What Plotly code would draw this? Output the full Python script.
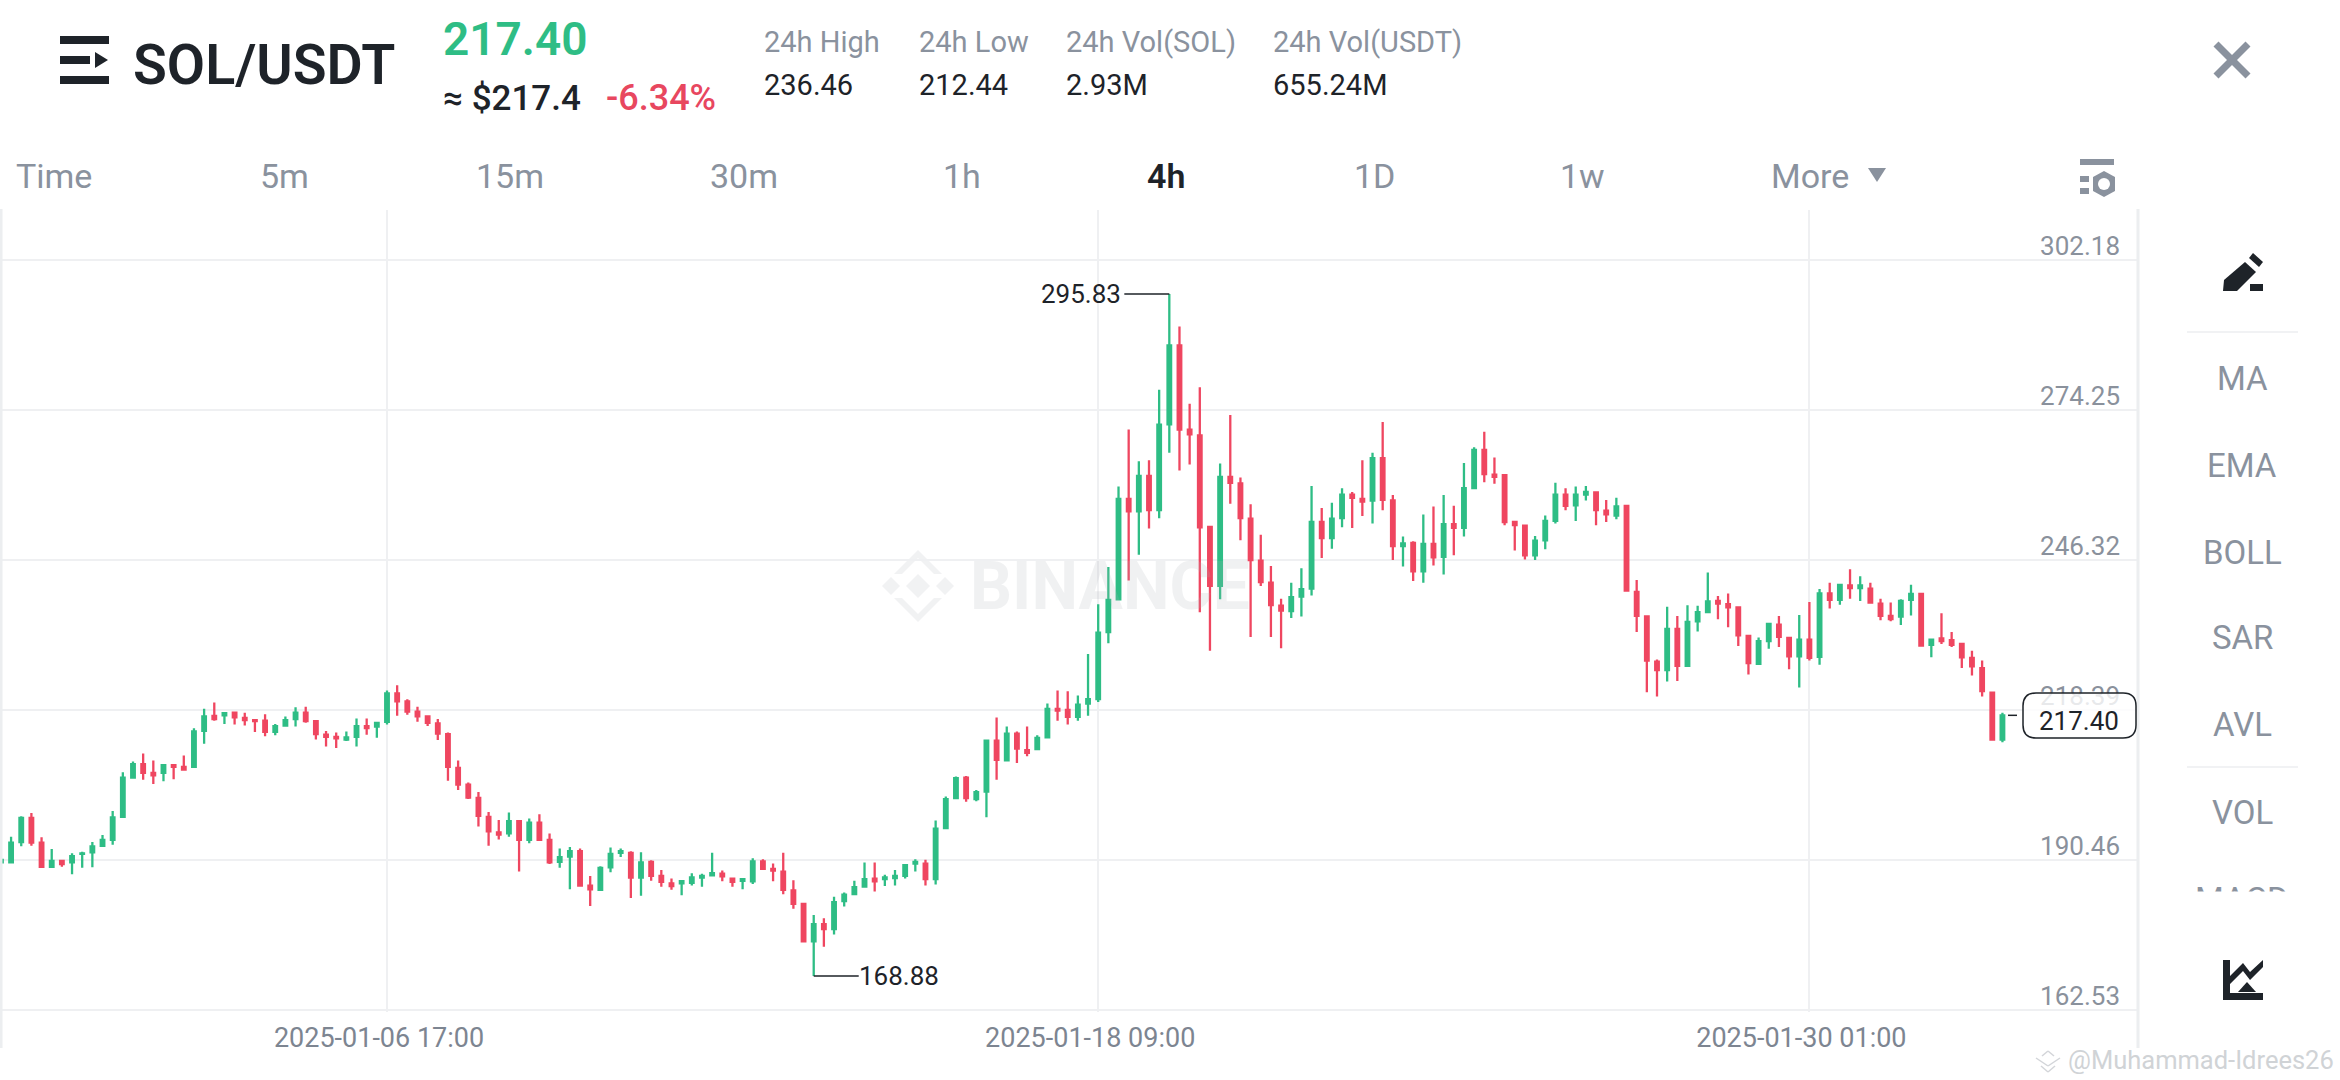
import pandas as pd
import plotly.graph_objects as go

W, H = 2340, 1080

# 4h candles
start_time = "2024-12-31 09:00"
opens = [
    190.0, 190.0, 193.8, 198.3, 193.7, 189.2, 190.3, 190.0, 191.6, 191.9,
    193.1, 194.2, 198.5, 205.8, 208.3, 206.7, 206.7, 208.1, 207.8, 207.8,
    214.5, 217.3, 217.4, 217.9, 216.9, 216.5, 216.4, 214.3, 215.5, 216.7,
    217.9, 216.3, 213.8, 213.4, 212.9, 213.4, 215.4, 215.3, 216.2, 221.5,
    220.0, 218.1, 217.2, 215.9, 213.9, 207.6, 204.5, 202.0, 198.5, 195.6,
    195.4, 197.7, 194.2, 197.4, 194.2, 190.1, 191.1, 192.1, 185.7, 184.9,
    189.1, 191.8, 191.8, 187.2, 190.1, 187.5, 186.1, 186.1, 186.2, 187.2,
    187.6, 187.9, 187.0, 186.6, 186.5, 190.2, 188.8, 188.3, 184.8, 182.3,
    175.3, 178.5, 177.6, 182.8, 184.1, 185.5, 187.0, 186.9, 187.1, 187.5,
    189.8, 189.8, 186.9, 196.4, 202.0, 205.8, 201.8, 203.2, 212.7, 209.0,
    214.0, 210.9, 211.1, 213.3, 218.6, 218.4, 217.1, 219.6, 220.4, 232.9,
    239.0, 257.7, 255.4, 262.0, 255.6, 271.6, 286.3, 270.6, 269.5, 252.5,
    241.5, 261.8, 260.6, 254.0, 246.2, 242.1, 237.8, 236.8, 239.5, 241.0,
    253.4, 250.4, 254.1, 258.5, 257.7, 257.4, 265.3, 257.4, 248.9, 249.5,
    244.2, 249.3, 246.9, 253.0, 252.3, 259.7, 266.8, 262.2, 262.1, 253.4,
    252.7, 247.2, 250.0, 253.6, 258.5, 256.5, 258.5, 258.9, 255.5, 254.6,
    256.4, 240.4, 235.8, 227.4, 225.8, 233.5, 226.6, 234.9, 236.6, 238.7,
    238.1, 237.5, 232.2, 227.0, 231.2, 234.3, 231.8, 228.4, 231.5, 228.3,
    240.1, 238.9, 241.6, 241.1, 241.0, 238.2, 235.9, 235.8, 238.9, 240.0,
    230.5, 231.7, 231.4, 230.7, 228.1, 226.2, 221.6, 212.9,
]
highs = [
    190.8, 194.8, 198.6, 199.2, 194.7, 192.5, 190.5, 191.7, 192.0, 193.8,
    195.1, 199.6, 206.8, 208.8, 210.3, 209.0, 208.2, 208.3, 209.9, 215.0,
    218.6, 219.8, 218.0, 218.1, 217.9, 216.5, 217.6, 215.8, 217.2, 218.9,
    219.0, 216.5, 214.5, 214.2, 214.4, 216.8, 216.8, 216.1, 222.0, 223.0,
    220.4, 219.0, 217.3, 216.7, 214.2, 209.0, 204.9, 203.1, 199.4, 197.9,
    199.3, 197.8, 198.2, 199.0, 195.4, 192.6, 192.9, 192.6, 187.5, 189.3,
    192.8, 192.6, 192.1, 191.9, 190.4, 188.6, 187.0, 186.6, 188.0, 187.9,
    191.8, 188.5, 187.2, 187.0, 190.8, 190.6, 189.8, 191.8, 186.7, 182.3,
    180.2, 179.6, 183.6, 184.4, 186.6, 190.0, 190.0, 187.7, 188.6, 189.6,
    190.6, 190.5, 197.8, 202.3, 206.0, 206.1, 203.5, 212.8, 217.0, 215.3,
    214.4, 215.3, 213.7, 219.6, 222.0, 221.9, 221.1, 228.8, 238.1, 245.0,
    260.0, 270.6, 264.7, 264.9, 278.0, 295.83, 289.8, 275.4, 278.5, 252.7,
    264.3, 273.3, 261.7, 256.7, 251.0, 245.2, 239.1, 242.1, 244.8, 260.1,
    256.0, 257.0, 259.7, 259.0, 264.9, 266.3, 272.0, 258.4, 250.7, 249.8,
    254.8, 256.3, 258.4, 256.4, 264.4, 267.3, 270.2, 265.4, 262.3, 253.6,
    252.8, 250.8, 254.6, 260.7, 259.7, 260.0, 260.1, 259.0, 257.5, 257.9,
    256.6, 242.6, 235.8, 227.8, 237.6, 235.9, 237.9, 237.8, 244.0, 239.6,
    240.1, 237.6, 232.4, 231.9, 234.6, 235.9, 231.9, 236.1, 238.5, 240.9,
    242.1, 241.8, 244.6, 243.3, 242.1, 239.1, 238.4, 239.0, 241.7, 240.0,
    231.7, 236.4, 232.9, 230.8, 229.4, 227.6, 221.6, 217.9,
]
lows = [
    189.8, 190.0, 193.0, 193.1, 189.1, 189.0, 189.2, 187.8, 189.0, 189.1,
    193.0, 193.3, 198.4, 205.6, 205.4, 204.6, 205.1, 205.5, 207.1, 207.6,
    212.1, 216.4, 215.8, 215.7, 215.5, 214.3, 213.5, 213.7, 215.4, 215.3,
    216.0, 212.9, 211.6, 211.3, 212.6, 211.6, 213.8, 213.2, 215.7, 217.3,
    217.5, 216.2, 215.4, 212.8, 205.2, 203.5, 201.8, 196.7, 193.1, 194.3,
    194.8, 188.3, 193.6, 194.1, 189.7, 189.0, 185.0, 185.6, 181.9, 184.9,
    188.2, 191.0, 183.4, 183.8, 186.6, 185.5, 184.9, 183.9, 185.7, 185.5,
    187.5, 186.5, 185.5, 185.0, 186.0, 188.6, 186.5, 184.1, 181.4, 175.2,
    168.88, 174.3, 176.6, 181.8, 184.1, 185.5, 184.6, 185.6, 185.7, 187.0,
    188.3, 185.7, 185.9, 196.4, 202.0, 201.3, 201.4, 198.4, 205.4, 208.8,
    208.5, 209.8, 210.9, 213.2, 216.4, 215.7, 216.4, 217.3, 219.9, 230.8,
    239.0, 242.5, 247.3, 252.2, 254.1, 266.3, 263.0, 264.1, 236.6, 229.4,
    239.0, 256.8, 250.0, 232.0, 241.5, 232.0, 229.9, 235.5, 235.8, 239.7,
    246.7, 248.4, 252.4, 252.3, 254.5, 253.1, 255.6, 246.3, 245.1, 242.4,
    242.1, 245.3, 243.6, 247.2, 250.7, 259.7, 260.8, 260.5, 252.8, 248.1,
    246.4, 246.3, 248.3, 253.1, 255.6, 253.6, 257.4, 252.8, 253.4, 253.9,
    240.4, 232.9, 221.7, 220.9, 223.7, 223.8, 226.6, 233.0, 236.6, 235.3,
    233.8, 230.3, 225.0, 226.8, 229.8, 230.1, 226.0, 222.6, 227.6, 226.8,
    237.3, 238.0, 239.1, 238.7, 238.2, 235.1, 234.9, 234.2, 236.0, 230.2,
    228.2, 230.7, 230.1, 226.2, 224.8, 220.9, 212.7, 212.4,
]
closes = [
    190.5, 193.7, 198.3, 193.7, 189.2, 190.3, 189.7, 191.2, 191.7, 193.0,
    194.2, 198.4, 205.8, 208.3, 206.7, 206.2, 208.1, 207.8, 207.3, 214.4,
    217.2, 216.7, 217.8, 217.0, 216.5, 216.3, 214.3, 215.4, 216.5, 217.9,
    216.3, 213.9, 213.4, 213.1, 213.3, 215.4, 215.0, 216.0, 221.5, 220.0,
    218.1, 217.2, 216.0, 214.0, 207.8, 204.5, 202.1, 198.7, 195.8, 195.2,
    197.7, 194.2, 197.4, 194.2, 190.0, 191.0, 192.1, 185.7, 185.0, 189.0,
    191.6, 192.1, 187.2, 190.0, 187.5, 186.4, 185.6, 186.5, 187.2, 187.5,
    188.0, 187.4, 186.4, 186.9, 190.2, 188.8, 188.5, 184.9, 182.3, 175.3,
    178.5, 177.6, 182.6, 184.0, 185.4, 186.9, 186.5, 187.2, 187.5, 189.5,
    190.1, 186.9, 196.3, 201.8, 205.7, 202.0, 203.1, 212.7, 209.1, 214.0,
    211.2, 210.4, 213.2, 218.6, 218.3, 217.1, 219.4, 220.4, 232.8, 238.9,
    257.7, 255.4, 262.0, 255.6, 271.5, 286.3, 270.6, 269.7, 252.4, 241.5,
    261.8, 260.7, 254.1, 246.3, 242.2, 237.9, 236.9, 239.4, 240.9, 253.4,
    250.4, 254.0, 258.5, 257.9, 257.2, 265.3, 257.5, 248.9, 249.4, 244.2,
    249.3, 246.8, 253.0, 252.3, 259.7, 266.8, 262.3, 261.8, 253.4, 252.8,
    247.2, 249.9, 253.6, 258.5, 256.4, 258.5, 259.0, 255.6, 254.8, 256.3,
    240.6, 235.9, 227.6, 225.8, 233.5, 226.6, 234.8, 236.6, 238.6, 238.2,
    237.5, 232.3, 227.1, 231.2, 234.4, 232.0, 228.4, 231.5, 228.1, 240.1,
    238.9, 241.7, 241.1, 241.6, 238.4, 235.9, 235.3, 238.7, 240.0, 230.4,
    231.5, 231.2, 230.5, 228.2, 226.5, 221.9, 212.9, 217.40,
]
date_ticks = ["2025-01-06 17:00", "2025-01-18 09:00", "2025-01-30 01:00"]
price_ticks = [162.53, 190.46, 218.39, 246.32, 274.25, 302.18]
tabs = ["Time", "5m", "15m", "30m", "1h", "4h", "1D", "1w", "More"]
side_items = ["MA", "EMA", "BOLL", "SAR", "AVL", "VOL", "MACD"]
high_price, low_price, last_price = 295.83, 168.88, 217.40

GREEN = "#2ebd85"
RED = "#ef4660"
DARK = "#1e2329"
GRAY = "#8a929e"
GRID = "#eff0f2"
FONT = "Roboto"

times = pd.date_range(start_time, periods=len(opens), freq="4h")
hour_ms = pd.Timedelta(hours=4)


# x pixel -> time, one candle every 10.16 px, 2025-01-06 17:00 sits at x=387
def px_time(x):
    return pd.Timestamp(date_ticks[0]) + (x - 387) / 10.16 * hour_ms


def fx(x):
    return x / W


def fy(y):
    return 1 - y / H


shapes = []
notes = []


def text(x, y, s, size, color=GRAY, anchor="left", weight=400):
    notes.append(dict(x=fx(x), y=fy(y), xref="paper", yref="paper", text=s, showarrow=False,
                      xanchor=anchor, yanchor="middle",
                      font=dict(family=FONT, size=size, color=color, weight=weight)))


def poly(points, color, layer="above"):
    path = "M " + " L ".join(f"{fx(a)},{fy(b)}" for a, b in points) + " Z"
    shapes.append(dict(type="path", path=path, xref="paper", yref="paper",
                       fillcolor=color, line=dict(width=0), layer=layer))


def rect(x0, y0, x1, y1, color, layer="above"):
    poly([(x0, y0), (x1, y0), (x1, y1), (x0, y1)], color, layer)


def line(x0, y0, x1, y1, color, width):
    shapes.append(dict(type="line", xref="paper", yref="paper", x0=fx(x0), y0=fy(y0), x1=fx(x1), y1=fy(y1),
                       line=dict(color=color, width=width)))


fig = go.Figure(go.Candlestick(
    x=times, open=opens, high=highs, low=lows, close=closes,
    increasing=dict(line=dict(color=GREEN, width=2.3), fillcolor=GREEN),
    decreasing=dict(line=dict(color=RED, width=2.3), fillcolor=RED),
    whiskerwidth=0, hoverinfo="skip",
))

# header
rect(60, 36, 109, 44, DARK)
rect(60, 56, 90, 64, DARK)
poly([(95, 52), (108, 60), (95, 68)], DARK)
rect(60, 76, 109, 84, DARK)
text(131, 65, "SOL/USDT", 55.5, DARK, weight=600)
text(441, 39, "217.40", 46, GREEN, weight=600)
text(441, 98, "≈ $217.4", 35, DARK, weight=500)
text(604, 98, "-6.34%", 36, "#e8475f", weight=500)
stat_x = [762, 917, 1064, 1271]
stat_names = ["24h High", "24h Low", "24h Vol(SOL)", "24h Vol(USDT)"]
stat_vals = ["236.46", "212.44", "2.93M", "655.24M"]
for sx, name, val in zip(stat_x, stat_names, stat_vals):
    text(sx, 42, name, 29)
    text(sx, 85, val, 29, DARK)

# close button
line(2216, 44, 2248, 76, GRAY, 7)
line(2216, 76, 2248, 44, GRAY, 7)

# interval tabs
tab_x = [14, 258, 474, 708, 941, 1145, 1352, 1558, 1769]
for tx, name in zip(tab_x, tabs):
    if name == "4h":
        text(tx, 176, name, 34, DARK, weight=600)
    else:
        text(tx, 176, name, 34)
poly([(1868, 168), (1886, 168), (1877, 182)], GRAY)
# settings icon
rect(2080, 159, 2114, 165, GRAY)
rect(2080, 176, 2089, 182, GRAY)
rect(2080, 188, 2089, 194, GRAY)
poly([(2104, 171), (2115, 177), (2115, 191), (2104, 197), (2093, 191), (2093, 177)], GRAY)
shapes.append(dict(type="circle", xref="paper", yref="paper", x0=fx(2098), x1=fx(2110), y0=fy(190), y1=fy(178),
                   fillcolor="white", line=dict(width=0)))

# side menu
side_y = [379, 465, 552, 637, 724, 812, 899]
for sy, name in zip(side_y, side_items):
    text(2242, sy, name, 33, anchor="center")
notes.append(dict(x=fx(2243), y=fy(908), xref="paper", yref="paper", text=" ", showarrow=False,
                  width=140, height=30, bgcolor="white", xanchor="center", yanchor="middle"))
for sep in [332, 767, 919]:
    line(2187, sep, 2298, sep, "#eceef0", 1.5)
# pencil
poly([(2223, 291), (2224, 280), (2245, 262), (2256, 272), (2237, 291)], DARK)
poly([(2249, 258), (2253, 253), (2263, 262), (2259, 267)], DARK)
rect(2250, 284, 2263, 291, DARK)
# chart type icon
rect(2223, 960, 2230, 1000, DARK)
rect(2223, 993, 2263, 1000, DARK)
poly([(2230, 976), (2243, 963), (2250, 972), (2263, 960), (2263, 967), (2250, 980), (2243, 971), (2230, 984)], DARK)
poly([(2238, 992), (2247, 982), (2256, 992)], DARK)

# frame of the chart
line(2138, 209, 2138, 1048, "#eceef0", 3)
line(1, 209, 1, 1048, "#eceef0", 3)

# BINANCE watermark, sits under the candles
wm = "#f1f2f3"
poly([(918, 574), (930, 586), (918, 598), (906, 586)], wm, "below")
poly([(891, 577), (900, 586), (891, 595), (882, 586)], wm, "below")
poly([(945, 577), (954, 586), (945, 595), (936, 586)], wm, "below")
poly([(918, 550), (942, 574), (934, 574), (918, 558), (902, 574), (894, 574)], wm, "below")
poly([(918, 622), (942, 598), (934, 598), (918, 614), (902, 598), (894, 598)], wm, "below")
notes.append(dict(x=fx(968), y=fy(586), xref="paper", yref="paper", text="BINANCE", showarrow=False,
                  xanchor="left", yanchor="middle",
                  font=dict(family=FONT, size=66, color="rgba(170,176,184,0.18)", weight=700)))

# high / low markers
shapes.append(dict(type="line", xref="x", yref="y", xsizemode="pixel", xanchor=times[closes.index(286.3)],
                   x0=-45, x1=0, y0=high_price, y1=high_price, line=dict(color=DARK, width=1.5)))
notes.append(dict(x=times[closes.index(286.3)], y=high_price, xref="x", yref="y", text=f"{high_price:.2f}",
                  showarrow=False, xanchor="right", yanchor="middle", xshift=-46,
                  font=dict(family=FONT, size=26, color=DARK)))
shapes.append(dict(type="line", xref="x", yref="y", xsizemode="pixel", xanchor=times[lows.index(low_price)],
                   x0=0, x1=45, y0=low_price, y1=low_price, line=dict(color=DARK, width=1.5)))
notes.append(dict(x=times[lows.index(low_price)], y=low_price, xref="x", yref="y", text=f"{low_price:.2f}",
                  showarrow=False, xanchor="left", yanchor="middle", xshift=43,
                  font=dict(family=FONT, size=26, color=DARK)))

# last price box
shapes.append(dict(type="line", xref="paper", yref="y", x0=fx(2008), x1=fx(2023), y0=last_price, y1=last_price,
                   line=dict(color=DARK, width=1.5, dash="dash")))
x0, x1, y0, y1, r = 2023, 2136, 693, 738, 13
box = (f"M {fx(x0 + r)},{fy(y0)} L {fx(x1 - r)},{fy(y0)} Q {fx(x1)},{fy(y0)} {fx(x1)},{fy(y0 + r)} "
       f"L {fx(x1)},{fy(y1 - r)} Q {fx(x1)},{fy(y1)} {fx(x1 - r)},{fy(y1)} "
       f"L {fx(x0 + r)},{fy(y1)} Q {fx(x0)},{fy(y1)} {fx(x0)},{fy(y1 - r)} "
       f"L {fx(x0)},{fy(y0 + r)} Q {fx(x0)},{fy(y0)} {fx(x0 + r)},{fy(y0)} Z")
shapes.append(dict(type="path", path=box, xref="paper", yref="paper",
                   fillcolor="rgba(255,255,255,0.8)", line=dict(color=DARK, width=1.5)))
text(2121, 721, f"{last_price:.2f}", 26, DARK, anchor="right")

# watermark bottom right
for pts in [[(2042, 1056), (2048, 1051), (2054, 1056)],
            [(2036, 1058), (2048, 1066), (2060, 1058)],
            [(2041, 1066), (2048, 1072), (2055, 1066)]]:
    line(pts[0][0], pts[0][1], pts[1][0], pts[1][1], "#d3d5d9", 1.5)
    line(pts[1][0], pts[1][1], pts[2][0], pts[2][1], "#d3d5d9", 1.5)
text(2066, 1060, "@Muhammad-Idrees26", 25.5, "#d0d3d6")

fig.update_layout(
    width=W, height=H, autosize=False,
    margin=dict(l=0, r=0, t=0, b=0),
    paper_bgcolor="white", plot_bgcolor="white",
    showlegend=False, boxgap=0.5,
    shapes=shapes, annotations=notes,
    xaxis=dict(
        domain=[0, 2138 / W], range=[px_time(0), px_time(2138)],
        rangeslider=dict(visible=False),
        tickmode="array", tickvals=date_ticks, tickformat="%Y-%m-%d %H:%M",
        tickfont=dict(family=FONT, size=27, color="#7d8591"),
        showgrid=True, gridcolor=GRID, gridwidth=1.5, zeroline=False, showline=False,
        ticklabelshift=-8, ticklabelstandoff=7,
    ),
    yaxis=dict(
        domain=[fy(1012), fy(210)],
        range=[price_ticks[0] - 2 / 5.3706, price_ticks[-1] + 50 / 5.3706],
        side="right", ticklabelposition="inside",
        tickmode="array", tickvals=price_ticks, tickformat=".2f",
        tickfont=dict(family=FONT, size=26, color="#8a919c"),
        showgrid=True, gridcolor=GRID, gridwidth=1.5, zeroline=False, showline=False,
        ticklabelshift=-14, ticklabelstandoff=15,
    ),
)

fig.write_html("out.html", config=dict(displayModeBar=False),
               post_script="document.body.style.margin='0';document.body.style.overflow='hidden';")
